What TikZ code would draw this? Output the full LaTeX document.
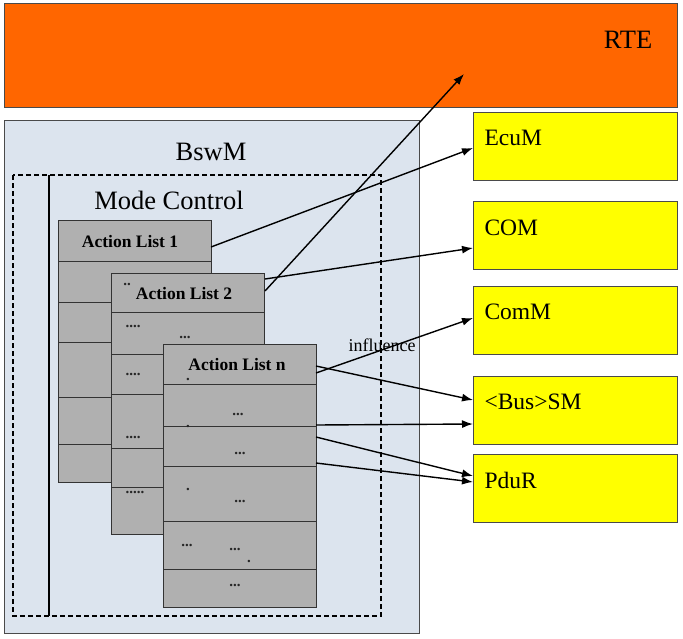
\documentclass[tikz,border=0pt]{standalone}
\usepackage{fontspec}
\setmainfont{Liberation Serif}
\usetikzlibrary{calc,arrows.meta}
\definecolor{rtefill}{HTML}{FF6600}
\definecolor{bswfill}{HTML}{DCE4EE}
\definecolor{modfill}{HTML}{FFFF00}
\definecolor{listfill}{HTML}{B0B0B0}
\definecolor{edge}{HTML}{4A4A4A}
\tikzset{
  box/.style={draw=edge, line width=1.1pt, inner sep=0pt, anchor=north west},
  rtebox/.style={box, fill=rtefill, minimum width=673pt, minimum height=104pt},
  bswbox/.style={box, fill=bswfill, minimum width=415pt, minimum height=513pt},
  modbox/.style={box, fill=modfill, minimum width=204pt, minimum height=68pt},
  alhead/.style={box, draw=black!80, fill=listfill, minimum width=153pt, font=\bfseries\fontsize{17.5}{20}\selectfont},
  alrow/.style={box, draw=black!80, fill=listfill, minimum width=153pt},
  help/.style={draw=black, dashed, dash pattern=on 5pt off 3pt, line width=1.4pt},
  flow/.style={draw=black, line width=1.4pt, -{Latex[length=11pt,width=8pt]}},
  lab/.style={text=black, font=\fontsize{26.5}{30}\selectfont},
  labm/.style={text=black, font=\fontsize{23.5}{26}\selectfont, anchor=west},
  labs/.style={text=black, font=\fontsize{18}{20}\selectfont},
  dotlab/.style={text=black!85, font=\bfseries\fontsize{15}{15}\selectfont, inner sep=0pt}
}
\begin{document}
\begin{tikzpicture}[x=1pt, y=-1pt]
  \useasboundingbox (0,0) rectangle (683,638);
  % layers
  \node[rtebox] (rte) at (4,3) {};
  \node[lab] (rtet) at (628,40) {RTE};
  \node[bswbox] (bsw) at (4,120) {};
  \node[lab] (bswt) at (211,152) {BswM};
  \draw[help] (13,175) rectangle (381,616);
  \draw[line width=1.4pt] (49,175) -- (49,616);
  \node[lab] (modt) at (169,200) {Mode Control};

  % modules
  \node[modbox] (ecum) at (473,112) {};
  \node[modbox] (com) at (473,201) {};
  \node[modbox] (comm) at (473,286) {};
  \node[modbox] (bussm) at (473,376) {};
  \node[modbox] (pdur) at (473,454) {};
  \node[labm] (ecumt) at (481,138) {EcuM};
  \node[labm] (comt) at (481,228) {COM};
  \node[labm] (commt) at (481,312) {ComM};
  \node[labm] (bussmt) at (481,402) {<Bus>SM};
  \node[labm] (pdurt) at (481,480) {PduR};

  % action list 1
  \node[alhead, minimum height=41pt] (al1h) at (58,220) {};
  \node[alhead, draw=none, fill=none, anchor=center] (al1t) at ($(al1h.center)+(-5,0)$) {Action List 1};
  \foreach \ya/\yb [count=\i] in {261/302,302/342,342/397,397/444,444/482}
    \node[alrow, minimum height={(\yb-\ya)*1pt}] (al1r\i) at (58,\ya) {};
  % action list 2
  \node[alhead, minimum height=39pt] (al2h) at (111,273) {};
  \node[alhead, draw=none, fill=none, anchor=center] (al2t) at ($(al2h.center)+(-4,0)$) {Action List 2};
  \foreach \ya/\yb [count=\i] in {312/354,354/394,394/448,448/487,487/534}
    \node[alrow, minimum height={(\yb-\ya)*1pt}] (al2r\i) at (111,\ya) {};
  \node[dotlab] (d1) at (127,284) {..};
  \node[dotlab] (d2) at (133,326) {....};
  \node[dotlab] (d3) at (185,337) {...};
  \node[dotlab] (d4) at (133,374) {....};
  \node[dotlab] (d5) at (133,437) {....};
  \node[dotlab] (d6) at (135,492) {.....};
  % action list n
  \node[alhead, minimum height=40pt] (alnh) at (163,344) {};
  \node[alhead, draw=none, fill=none, anchor=center] (alnt) at ($(alnh.center)+(-3,0)$) {Action List n};
  \foreach \ya/\yb [count=\i] in {384/426,426/466,466/521,521/569,569/607}
    \node[alrow, minimum height={(\yb-\ya)*1pt}] (alnr\i) at (163,\ya) {};
  \node[dotlab] (d7) at (188,379) {.};
  \node[dotlab] (d8) at (238,414) {...};
  \node[dotlab] (d9) at (188,426) {.};
  \node[dotlab] (d10) at (240,453) {...};
  \node[dotlab] (d11) at (188,489) {.};
  \node[dotlab] (d12) at (240,501) {...};
  \node[dotlab] (d13) at (187,545) {...};
  \node[dotlab] (d14) at (235,549) {...};
  \node[dotlab] (d15) at (249,561) {.};
  \node[dotlab] (d16) at (235,585) {...};

  \node[labs] (infl) at (382,345) {influence};

  % connector ends
  \coordinate (al1out) at (211,247);
  \coordinate (al2outa) at (265,279);
  \coordinate (al2outb) at (265,291);
  \coordinate (alnouta) at (316,366);
  \coordinate (alnoutb) at (316,373);
  \coordinate (alnoutc) at (316,425);
  \coordinate (alnoutd) at (316,437);
  \coordinate (alnoute) at (316,463);
  \coordinate (rtein) at (464,74);
  \coordinate (ecumin) at (473,148);
  \coordinate (comin) at (473,248);
  \coordinate (commin) at (473,318);
  \coordinate (bussmina) at (473,400);
  \coordinate (bussminb) at (473,424);
  \coordinate (pdurina) at (473,476);
  \coordinate (pdurinb) at (473,482);

  \draw[flow] (al2outb) -- (rtein);
  \draw[flow] (al1out) -- (ecumin);
  \draw[flow] (al2outa) -- (comin);
  \draw[flow] (alnoutb) -- (commin);
  \draw[flow] (alnouta) -- (bussmina);
  \draw[flow] (alnoutc) -- (bussminb);
  \draw[flow] (alnoutd) -- (pdurina);
  \draw[flow] (alnoute) -- (pdurinb);
\end{tikzpicture}
\end{document}
